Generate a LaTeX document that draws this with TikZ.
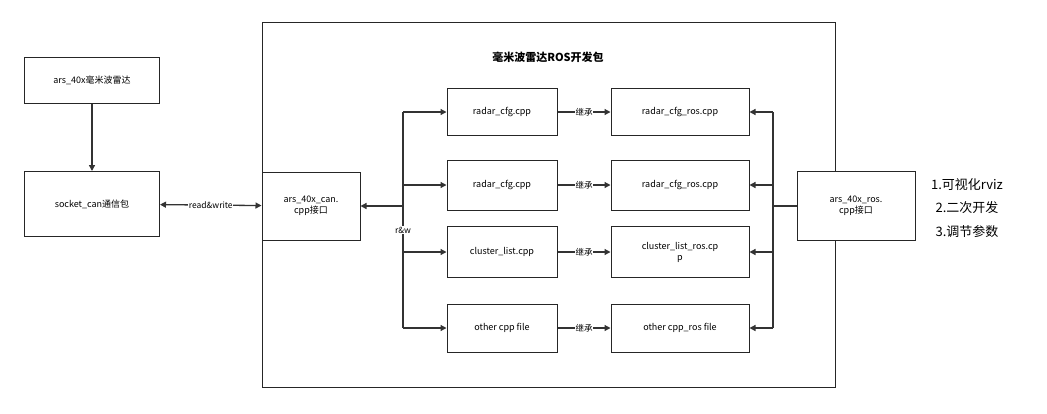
\documentclass[tikz,border=0pt]{standalone}
\usepackage{fontspec}
\setmainfont{Noto Sans CJK SC}
\usetikzlibrary{arrows.meta}
\begin{document}
\begin{tikzpicture}[x=1pt,y=-1pt,
  box/.style={draw=black!85,line width=1pt,fill=white,minimum width=#1,inner sep=1pt,align=center,font=\fontsize{9}{11}\selectfont},
  arr/.style={line width=1.3pt,draw=black!80,-{Triangle[length=6pt,width=6pt]}},
  lbl/.style={fill=white,inner sep=0.5pt,font=\fontsize{8.5}{10}\selectfont}]
\useasboundingbox (0,0) rectangle (1047,413);
\node[draw=black!85,line width=1pt,minimum width=573,minimum height=365,anchor=north west] (big) at (262,22) {};
\node[font=\bfseries\fontsize{11}{13}\selectfont] (title) at (548,57) {毫米波雷达ROS开发包};
\node[box=135,minimum height=46] (radar) at (92,80) {ars\_40x毫米波雷达};
\node[box=135,minimum height=65] (sock) at (92,204) {socket\_can通信包};
\node[box=98,minimum height=68] (can) at (311,206) {ars\_40x\_can.\\cpp接口};
\node[box=118,minimum height=69] (ros) at (856,206) {ars\_40x\_ros.\\cpp接口};
\foreach \i/\y/\h/\a/\b in {1/112/47/radar\_cfg.cpp/radar\_cfg\_ros.cpp,2/185/50/radar\_cfg.cpp/radar\_cfg\_ros.cpp,3/252/51/cluster\_list.cpp/{cluster\_list\_ros.cp\\p},4/328/48/other cpp file/other cpp\_ros file}{
  \node[box=110,minimum height=\h] (l\i) at (502,\y) {\a};
  \node[box=138,minimum height=\h] (r\i) at (680,\y) {\b};
  \draw[arr] (l\i) -- node[lbl]{继承} (r\i);
  \coordinate (lb\i) at (403,\y);
  \coordinate (rb\i) at (773,\y);
  \draw[arr] (lb\i) -- (l\i);
  \draw[arr] (rb\i) -- (r\i);
}
\draw[line width=1.3pt,black!80] (lb1) -- (lb4);
\draw[line width=1.3pt,black!80] (rb1) -- (rb4);
\coordinate (lbm) at (403,206);
\coordinate (rbm) at (773,206);
\draw[arr] (lbm) -- (can);
\draw[line width=1.3pt,black!80] (ros) -- (rbm);
\node[lbl] (rw) at (403,230) {r\&w};
\draw[arr] (radar) -- (sock);
\draw[arr,{Triangle[length=6pt,width=6pt]}-{Triangle[length=6pt,width=6pt]}] (sock) -- node[lbl]{read\&write} (can);
\node[align=center,font=\fontsize{13}{23.5}\selectfont] (notes) at (967,208) {1.可视化rviz\\2.二次开发\\3.调节参数};
\end{tikzpicture}
\end{document}
